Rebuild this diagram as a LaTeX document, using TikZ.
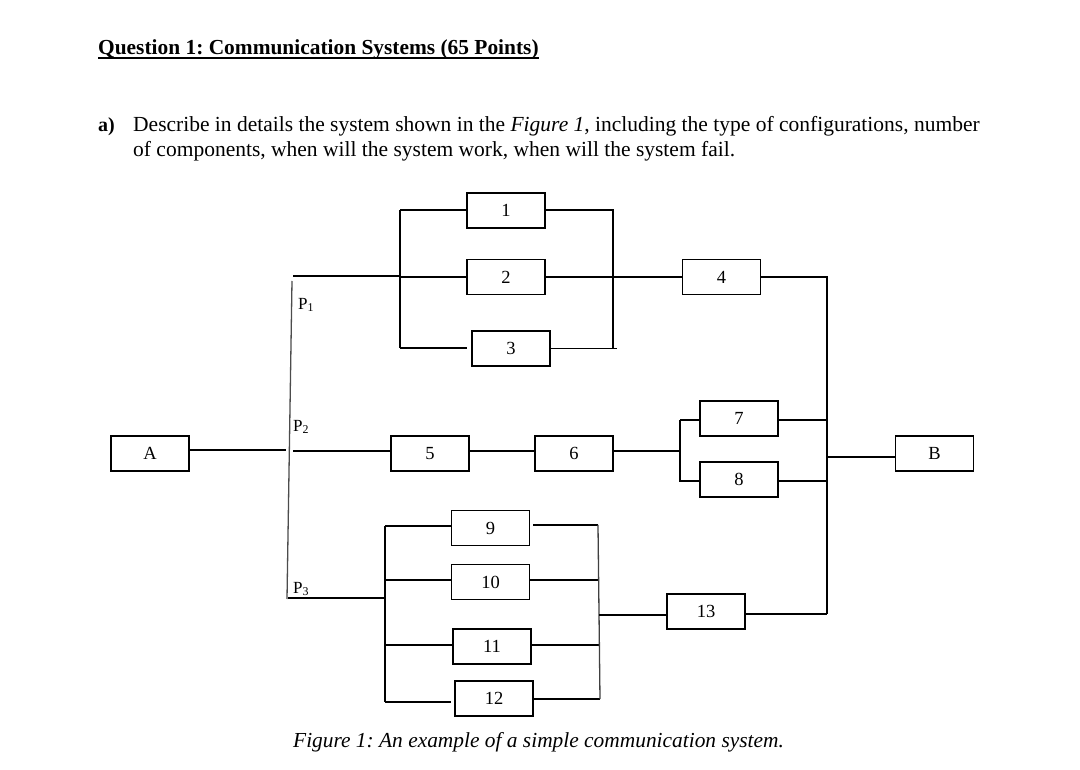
\documentclass[tikz,border=0pt]{standalone}
\usepackage{fontspec}
\setmainfont{Liberation Serif}
\frenchspacing
\begin{document}
\begin{tikzpicture}[x=1pt,y=-1pt,
  comp/.style={draw,line width=1.3pt,minimum width=78pt,minimum height=35pt,inner sep=0pt,font=\fontsize{18.5}{20}\selectfont},
  wire/.style={line width=1.3pt},
  plabel/.style={anchor=base west,inner sep=0pt,font=\fontsize{17}{19}\selectfont}]
\useasboundingbox (0,0) rectangle (1080,770);
% texts
\node[anchor=base west,inner sep=0pt,font=\bfseries\fontsize{21.4}{24}\selectfont] (title) at (98,55) {Question 1: Communication Systems (65 Points)};
\draw[line width=1.3pt] ([yshift=-3pt]title.base west) -- ([yshift=-3pt]title.base east);
\node[anchor=base west,inner sep=0pt,font=\bfseries\fontsize{20}{24}\selectfont] (qa) at (98,132) {a)};
\node[anchor=base west,inner sep=0pt,font=\fontsize{21.5}{24}\selectfont] (l1) at (133,132) {Describe in details the system shown in the \textit{Figure 1}, including the type of configurations, number};
\node[anchor=base west,inner sep=0pt,font=\fontsize{21.5}{24}\selectfont] (l2) at (133,157) {of components, when will the system work, when will the system fail.};
\node[anchor=base west,inner sep=0pt,font=\itshape\fontsize{21.4}{24}\selectfont] (cap) at (293,747) {Figure 1: An example of a simple communication system.};
% components
\node[comp] (b1) at (506,210.5) {1};
\node[comp] (b2) at (506,277) {2};
\node[comp] (b3) at (511,348.5) {3};
\node[comp] (b4) at (721.5,277) {4};
\node[comp] (A) at (150,453.5) {A};
\node[comp] (b5) at (430,453.5) {5};
\node[comp] (b6) at (574,453.5) {6};
\node[comp] (b7) at (739,418.5) {7};
\node[comp] (b8) at (739,479.5) {8};
\node[comp] (B) at (934.5,453.5) {B};
\node[comp] (b9) at (490.5,528) {9};
\node[comp] (b10) at (490.5,582) {10};
\node[comp] (b11) at (492,646.5) {11};
\node[comp] (b12) at (494,698.5) {12};
\node[comp] (b13) at (706,611.5) {13};
% P labels
\node[plabel] (p1) at (298,309) {P\textsubscript{1}};
\node[plabel] (p2) at (293,431) {P\textsubscript{2}};
\node[plabel] (p3) at (293,593) {P\textsubscript{3}};
% bus coordinates
\coordinate (pt) at (292,281);
\coordinate (pb) at (287,599);
\coordinate (g1l) at (400,210);
\coordinate (g1lb) at (400,348);
\coordinate (g1r) at (613,210);
\coordinate (g1rb) at (613,348);
\coordinate (rb) at (827,277);
\coordinate (rbb) at (827,614);
\coordinate (g3l) at (385,526);
\coordinate (g3lb) at (385,702);
\coordinate (g3r) at (598,525);
\coordinate (g3rb) at (600,699);
\coordinate (g2l) at (680,420);
\coordinate (g2lb) at (680,482);
% wires
\draw[wire,draw=black!70] (pt) -- (pb);
\draw[wire] (293,276) -- (400,276);
\draw[wire] (g1l) -- (g1lb);
\draw[wire] (g1l) -- (g1l -| b1.west);
\draw[wire] (400,277) -- (b2.west);
\draw[wire] (g1lb) -- (467,348);
\draw[wire] (b1.east |- g1r) -- (g1r) -- (g1rb);
\draw[wire] (b3.east) -- (617,348.5);
\draw[wire] (b2.east) -- (b4.west);
\draw[wire] (b4.east) -- (rb) -- (rbb);
\draw[wire] (A.east |- 0,450) -- (286,450);
\draw[wire] (293,451) -- (b5.west |- 0,451);
\draw[wire] (b5.east |- 0,451) -- (b6.west |- 0,451);
\draw[wire] (b6.east |- 0,451) -- (680,451);
\draw[wire] (g2l) -- (g2lb);
\draw[wire] (g2l) -- (g2l -| b7.west);
\draw[wire] (680,481) -- (b8.west |- 0,481);
\draw[wire] (b7.east |- g2l) -- (827,420);
\draw[wire] (b8.east |- 0,481) -- (827,481);
\draw[wire] (827,457) -- (B.west |- 0,457);
\draw[wire] (288,598) -- (385,598);
\draw[wire] (g3l) -- (g3lb);
\draw[wire] (g3l) -- (g3l -| b9.west);
\draw[wire] (385,580) -- (b10.west |- 0,580);
\draw[wire] (385,645) -- (b11.west |- 0,645);
\draw[wire] (g3lb) -- (451,702);
\draw[wire] (533,525) -- (g3r);
\draw[wire] (b10.east |- 0,580) -- (598.7,580);
\draw[wire] (b11.east |- 0,645) -- (599.4,645);
\draw[wire] (b12.east |- 0,699) -- (g3rb);
\draw[wire,draw=black!75] (g3r) -- (g3rb);
\draw[wire] (599,615) -- (b13.west |- 0,615);
\draw[wire] (b13.east |- 0,614) -- (rbb);
\end{tikzpicture}
\end{document}
